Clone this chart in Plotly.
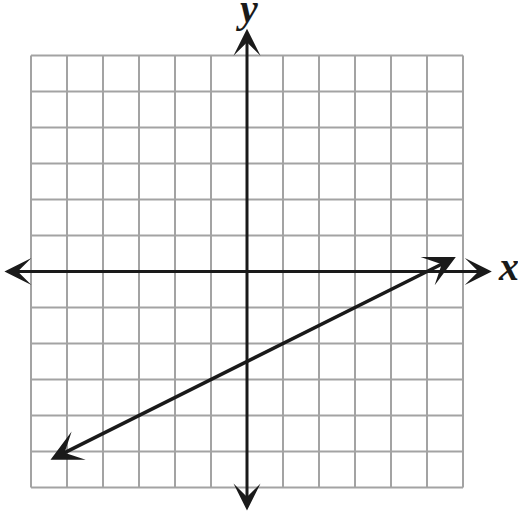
import plotly.graph_objects as go

# grid runs from -6 to 6 on both axes
grid_ticks = list(range(-6, 7))

# the drawn line y = x/2 - 5/2, read from the two arrow tips
line_x = [-5.5, 5.8]
line_y = [-5.25, 0.4]

# axis arrow ends
x_axis_ends = [-6.78, 6.8]
y_axis_ends = [-6.68, 6.74]

W, H = 518, 517
px_unit = 36
ox, oy = 247, 271.5   # origin in pixels

fig = go.Figure()

# invisible trace so the axes exist
fig.add_trace(go.Scatter(x=line_x, y=line_y, mode='lines',
                         line=dict(color='rgba(0,0,0,0)'), hoverinfo='skip'))

shapes = []
for t in grid_ticks:
    shapes.append(dict(type='line', xref='x', yref='y', x0=t, x1=t,
                       y0=grid_ticks[0], y1=grid_ticks[-1],
                       line=dict(color='#a3a3a3', width=2), layer='below'))
    shapes.append(dict(type='line', xref='x', yref='y', y0=t, y1=t,
                       x0=grid_ticks[0], x1=grid_ticks[-1],
                       line=dict(color='#a3a3a3', width=2), layer='below'))

def arrow(x0, y0, x1, y1, width):
    return dict(x=x1, y=y1, ax=x0, ay=y0, xref='x', yref='y', axref='x', ayref='y',
                text='', showarrow=True, arrowhead=3, arrowside='end+start',
                arrowsize=1.5, arrowwidth=width, arrowcolor='#1a1a1a')

label_font = dict(family='Liberation Serif', size=40, color='#1a1a1a', weight='bold')

annotations = [
    arrow(x_axis_ends[0], 0, x_axis_ends[1], 0, 3),
    arrow(0, y_axis_ends[0], 0, y_axis_ends[1], 3),
    arrow(line_x[0], line_y[0], line_x[1], line_y[1], 3.5),
    dict(x=7.25, y=0.15, xref='x', yref='y', text='<i>x</i>', showarrow=False,
         font=label_font),
    dict(x=0.0, y=7.3, xref='x', yref='y', text='<i>y</i>', showarrow=False,
         font=label_font),
]

fig.update_layout(
    width=W, height=H,
    margin=dict(l=0, r=0, t=0, b=0),
    paper_bgcolor='white', plot_bgcolor='white',
    showlegend=False,
    shapes=shapes, annotations=annotations,
    xaxis=dict(range=[-ox / px_unit, (W - ox) / px_unit],
               visible=False, fixedrange=True),
    yaxis=dict(range=[(oy - H) / px_unit, oy / px_unit],
               visible=False, fixedrange=True),
)

# drop the page's default 8px body margin so the figure fills the window
fig.write_html("out.html", config={'displayModeBar': False},
               post_script="document.body.style.margin = '0px';")
